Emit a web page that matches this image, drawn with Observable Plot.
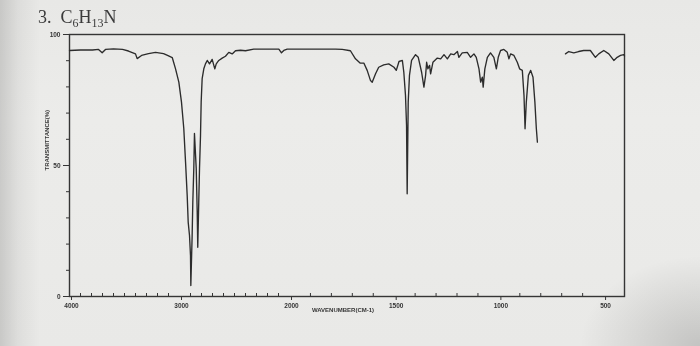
<!DOCTYPE html>
<html>
<head>
<meta charset="utf-8">
<script src="https://cdn.jsdelivr.net/npm/d3@7"></script>
<script src="https://cdn.jsdelivr.net/npm/@observablehq/plot@0.6"></script>
<style>
  html, body { margin: 0; padding: 0; }
  body {
    width: 700px; height: 346px; overflow: hidden;
    background:
      radial-gradient(ellipse 120px 90px at 700px 346px, rgba(0,0,0,0.16), rgba(0,0,0,0)),
      linear-gradient(to right, rgba(0,0,0,0.14) 0px, rgba(0,0,0,0.05) 18px, rgba(0,0,0,0) 40px),
      linear-gradient(to bottom, #e8e8e6 0px, #ececea 120px, #e9e9e7 346px);
  }
  #wrap { position: relative; width: 700px; height: 346px; }
  #title {
    position: absolute; left: 38px; top: 8px; z-index: 2;
    font-family: "Liberation Serif", "DejaVu Serif", serif;
    font-size: 18px; line-height: 18px; color: #3a3a3a; white-space: nowrap;
    will-change: transform; transform: translateZ(0);
  }
  #title .s { font-size: 12px; position: relative; top: 4px; }
  #chart { position: absolute; left: 0; top: 0; width: 700px; height: 346px; }
  #chart svg { will-change: transform; transform: translateZ(0); }
</style>
</head>
<body>
<div id="wrap">
  <div id="title">3.&nbsp; C<span class="s">6</span>H<span class="s">13</span>N</div>
  <div id="chart"></div>
</div>
<script>
// Spectrum, main segment (wavenumber cm-1, transmittance %)
const wnA = [4000,3900,3791,3736,3703,3673,3600,3518,3464,3400,
  3385,3345,3282,3218,3145,3109,3066,3036,3006,2982,
  2961,2945,2930,2921,2909,2900,2897,2885,2879,2870,
  2864,2848,2839,2834,2825,2818,2809,2803,2794,2779,
  2764,2748,2727,2703,2679,2666,2643,2612,2582,2552,
  2521,2491,2445,2400,2325,2248,2097,2073,2052,2021,
  1892,1780,1748,1709,1685,1663,1645,1629,1613,1605,
  1589,1574,1550,1526,1501,1490,1477,1461,1454,1446,
  1441,1438,1433,1427,1417,1398,1385,1369,1358,1350,
  1345,1339,1331,1326,1315,1294,1278,1262,1246,1230,
  1215,1198,1191,1175,1151,1135,1119,1108,1095,1087,
  1079,1075,1067,1055,1040,1024,1012,1003,992,976,
  960,952,944,928,912,901,888,880,875,869,
  859,848,837,828,821,816];
const tA = [93.9,94.1,94.1,94.3,93.0,94.3,94.5,94.3,93.7,92.6,
  90.8,92.0,92.7,93.2,92.7,92.0,91.2,86.9,81.8,74.2,
  64.1,51.3,38.5,28.4,23.3,15.6,4.2,23.3,36.0,48.9,
  62.2,48.9,32.2,18.8,36.0,48.9,61.5,74.2,83.2,86.9,
  88.8,90.1,88.8,90.5,86.9,88.8,90.1,91.0,91.7,93.2,
  92.6,93.8,94.0,93.8,94.4,94.4,94.4,93.0,93.9,94.4,
  94.4,94.4,94.3,93.8,90.7,89.1,89.1,86.3,82.4,81.8,
  85.0,87.5,88.4,88.8,87.5,86.3,89.7,90.1,85.6,76.7,
  65.3,39.2,74.2,84.4,90.1,92.3,91.3,85.6,79.9,84.4,
  89.4,86.9,88.2,85.0,89.4,91.0,90.7,92.3,90.7,92.6,
  92.3,93.5,91.3,93.0,93.2,91.3,92.6,91.3,86.9,81.8,
  83.7,79.9,86.9,91.3,93.0,91.3,86.9,91.3,93.9,94.3,
  93.2,90.7,92.6,92.0,89.4,86.9,86.3,76.7,64.0,74.2,
  84.4,86.3,83.7,74.2,64.0,58.9];
// Second (far-IR) segment
const wnB = [682,666,642,619,595,563,539,523,499,475,451,435,419,403,400];
const tB = [92.6,93.5,93.0,93.5,93.9,93.9,91.3,92.6,93.9,92.6,90.1,91.3,92.0,92.3,91.8];

// Axis ticks and labels
const xMajor = [4000,3000,2000,1500,1000,500];
const xMinor = [3900,3800,3700,3600,3500,3400,3300,3200,3100,2900,2800,2700,2600,2500,2400,2300,2200,2100,
  1900,1800,1700,1600,1400,1300,1200,1100,900,800,700,600];
const yMajor = [0,50,100];
const yMinor = [10,20,30,40,60,70,80,90];
const xTitle = "WAVENUMBER(CM-1)";
const yTitle = "TRANSMITTANCE(%)";

const segA = wnA.map((w, i) => ({w, t: tA[i]}));
const segB = wnB.map((w, i) => ({w, t: tB[i]}));

const ink = "#353535";
const chart = Plot.plot({
  width: 700,
  height: 346,
  marginTop: 34, marginBottom: 50, marginLeft: 69, marginRight: 76,
  x: {type: "linear", domain: [4000, 2000, 400], range: [69, 289, 624]},
  y: {domain: [0, 100], range: [296, 34]},
  style: {background: "transparent", color: ink, fontFamily: "'Liberation Sans Narrow','Liberation Sans',sans-serif", fontSize: "6.5px", fontWeight: "bold"},
  marks: [
    Plot.frame({stroke: ink, strokeWidth: 1.4}),
    Plot.axisX({ticks: xMajor, tickSize: 4, tickPadding: 3, dx: 2, tickFormat: d => String(d), label: null, stroke: ink}),
    Plot.axisX({ticks: xMinor, tickSize: -3, text: null, label: null, stroke: ink}),
    Plot.axisY({ticks: yMajor, tickSize: 6, tickPadding: 3, label: null, stroke: ink}),
    Plot.axisY({ticks: yMinor, tickSize: 3, text: null, label: null, stroke: ink}),
    Plot.line(segA, {x: "w", y: "t", stroke: "#2c2c2c", strokeWidth: 1.35}),
    Plot.line(segB, {x: "w", y: "t", stroke: "#2c2c2c", strokeWidth: 1.35}),
    Plot.text([xTitle], {text: d => d, frameAnchor: "bottom", dx: -4, dy: 15, fontSize: 6, fontWeight: "bold", fill: ink}),
    Plot.text([yTitle], {text: d => d, frameAnchor: "left", rotate: -90, dx: -22, dy: 5, fontSize: 6, fontWeight: "bold", fill: ink})
  ]
});
document.getElementById("chart").appendChild(chart);
</script>
</body>
</html>
